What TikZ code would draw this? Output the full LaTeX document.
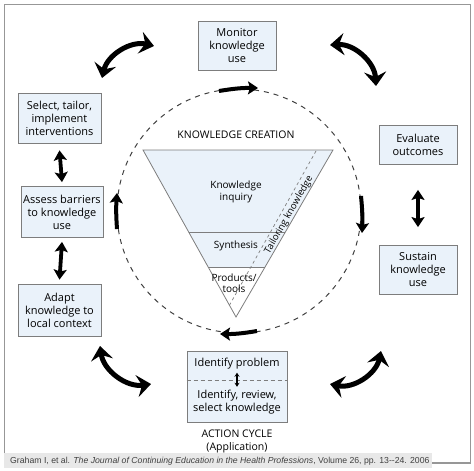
\documentclass[tikz,border=0pt]{standalone}
\usepackage{fontspec}
\setmainfont{Open Sans}
\newfontfamily\capfont{Liberation Sans}
\usetikzlibrary{arrows.meta,calc}
\definecolor{boxfill}{RGB}{234,242,250}
\definecolor{boxline}{RGB}{125,125,125}
\definecolor{capband}{RGB}{232,232,232}

\begin{document}
\begin{tikzpicture}[x=1pt,y=-1pt,
  stepbox/.style={draw=boxline,fill=boxfill,line width=0.8pt,align=center,inner sep=0pt,
    font=\fontsize{11}{13}\selectfont},
  twoway/.style={line width=5pt,{Stealth[length=14pt,width=22pt,inset=5pt]}-{Stealth[length=14pt,width=22pt,inset=5pt]}},
  updown/.style={line width=3.8pt,{Stealth[length=10pt,width=13pt,inset=2pt]}-{Stealth[length=10pt,width=13pt,inset=2pt]}},
  roundarrow/.style={line width=4pt,-{Stealth[length=10pt,width=13pt,inset=2pt]}},
  label/.style={font=\fontsize{10.5}{13}\selectfont,align=center,inner sep=0.5pt}]

\useasboundingbox (0,0) rectangle (474,471);
\draw[boxline!80,line width=1.8pt] (4.5,4.5) rectangle (470.5,463);

% knowledge creation funnel
\coordinate (tl) at (143,150);
\coordinate (tr) at (333,150);
\coordinate (apex) at (236,317);
\fill[boxfill] (tl) -- (tr) -- ($(tr)!0.7006!(apex)$) -- ($(tl)!0.7006!(apex)$) -- cycle;
\draw[boxline,line width=0.8pt] (tl) -- (tr) -- (apex) -- cycle;
\draw[boxline,line width=0.8pt] ($(tl)!0.491!(apex)$) -- ($(tr)!0.491!(apex)$);
\draw[boxline,line width=0.8pt] ($(tl)!0.7006!(apex)$) -- ($(tr)!0.7006!(apex)$);
\coordinate (tk1) at (316,151);
\coordinate (tk2) at (229,306);
\draw[boxline,dashed,line width=0.7pt] (tk1) -- (tk2);
\node[rotate=60.5,font=\fontsize{9.5}{11}\selectfont,inner sep=0pt] (tailor) at (289,215) {Tailoring knowledge};
\node[label] (kc) at (236,135) {KNOWLEDGE CREATION};
\node[label,font=\fontsize{10}{12.5}\selectfont] (inquiry) at (236,192) {Knowledge\\inquiry};
\node[label,font=\fontsize{10}{12}\selectfont] (synth) at (236,246) {Synthesis};
\node[label,font=\fontsize{10}{11.5}\selectfont] (prod) at (234,283) {Products/\\tools};

% dashed cycle
\draw[black!75,line width=1pt,dash pattern=on 5pt off 5pt] (239,211) circle[radius=122];
\coordinate (c1) at (219,91);  \coordinate (c2) at (258,88);
\coordinate (c3) at (361,196); \coordinate (c4) at (362,233);
\coordinate (c5) at (257,331); \coordinate (c6) at (220,334);
\coordinate (c7) at (117,229); \coordinate (c8) at (117,193);
\draw[roundarrow] (c1) to[bend left=5] (c2);
\draw[roundarrow] (c3) to[bend left=4] (c4);
\draw[roundarrow] (c5) to[bend left=5] (c6);
\draw[roundarrow] (c7) to[bend left=4] (c8);

% action cycle boxes
\node[stepbox,minimum width=78,minimum height=49] (monitor) at (237,46) {Monitor\\knowledge\\use};
\node[stepbox,minimum width=83,minimum height=50] (select) at (59.5,118) {Select, tailor,\\implement\\interventions};
\node[stepbox,minimum width=82,minimum height=51] (assess) at (62,212) {Assess barriers\\to knowledge\\use};
\node[stepbox,minimum width=83,minimum height=52] (adapt) at (59.5,310) {Adapt\\knowledge to\\local context};
\node[stepbox,minimum width=78,minimum height=39] (evaluate) at (418,145) {Evaluate\\outcomes};
\node[stepbox,minimum width=78,minimum height=49] (sustain) at (418,270) {Sustain\\knowledge\\use};
\node[stepbox,minimum width=100,minimum height=71] (identify) at (237,386.5) {};
\draw[boxline,line width=0.8pt,dash pattern=on 4pt off 3pt] (identify.west |- 0,380) -- (identify.east |- 0,380);
\node[font=\fontsize{11}{13}\selectfont,inner sep=1pt] (problem) at (237,364) {Identify problem};
\node[font=\fontsize{11}{13}\selectfont,align=center,inner sep=1pt] (review) at (237,402) {Identify, review,\\select knowledge};
\draw[line width=1.3pt,{Stealth[length=4pt,width=5pt]}-{Stealth[length=4pt,width=5pt]}] ($(problem.south)+(0,2)$) -- ($(review.north)+(0,-2)$);
\node[label] (action) at (237,441) {ACTION CYCLE\\(Application)};

% links between steps
\draw[updown] ($(select.south)+(0,7)$) -- ($(assess.north)+(0,-4)$);
\draw[updown] ($(assess.south)+(0,4)$) -- ($(adapt.north)+(0,-4)$);
\draw[updown] ($(evaluate.south)+(0,25)$) -- ($(sustain.north)+(0,-18)$);
\coordinate (a1) at (102,78);  \coordinate (a2) at (154,46);
\coordinate (a3) at (330,45);  \coordinate (a4) at (376,86);
\coordinate (a5) at (381,351); \coordinate (a6) at (330,384);
\coordinate (a7) at (151,384); \coordinate (a8) at (100,346);
\draw[twoway] (a1) to[bend left=45] (a2);
\draw[twoway] (a3) to[bend left=45] (a4);
\draw[twoway] (a5) to[bend left=45] (a6);
\draw[twoway] (a7) to[bend left=45] (a8);

% source line
\fill[capband] (4,453) rectangle (432,468);
\node[anchor=west,font=\capfont\fontsize{8.7}{10}\selectfont,text=black!75,inner sep=0pt] (source) at (10,461)
  {Graham I, et al. \textit{The Journal of Continuing Education in the Health Professions}, Volume 26, pp. 13--24. 2006};
\end{tikzpicture}
\end{document}
